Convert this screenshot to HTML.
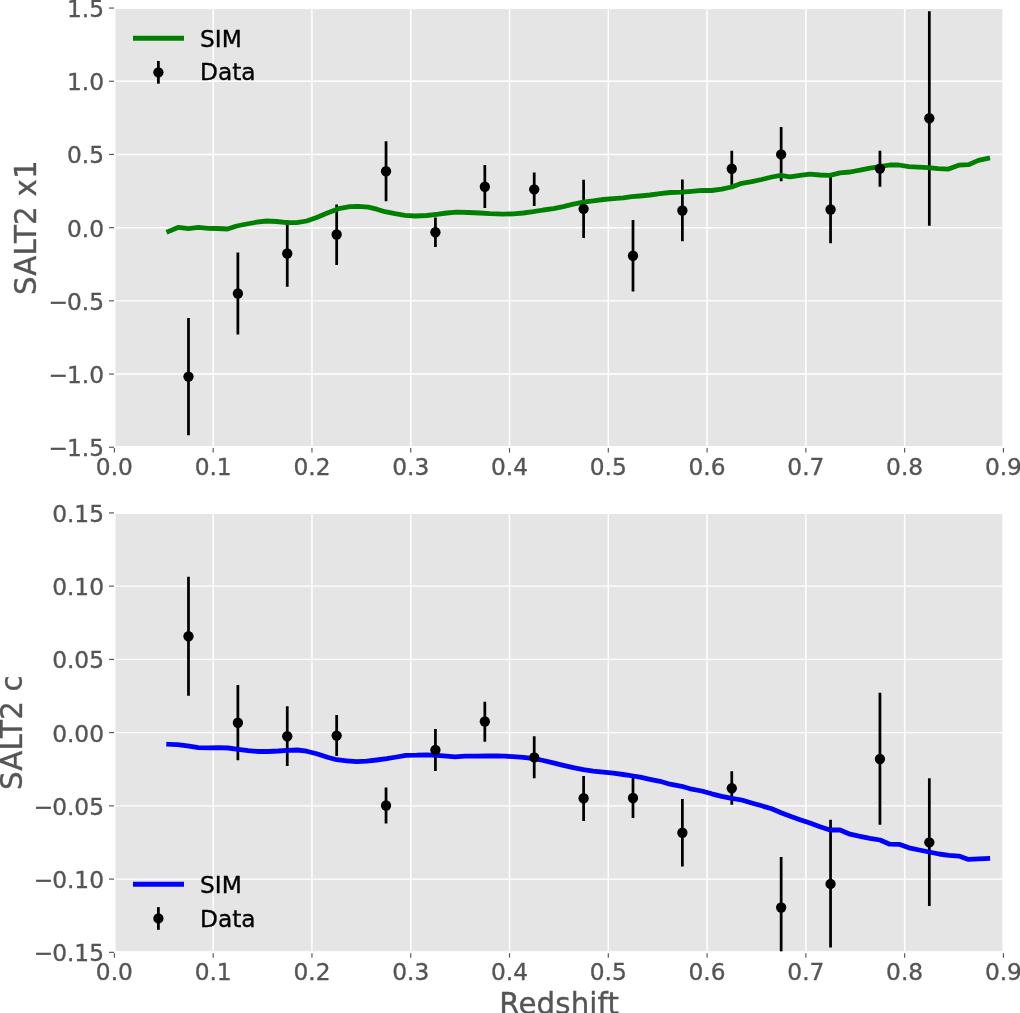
<!DOCTYPE html>
<html lang="en">
<head>
<meta charset="utf-8">
<title>SALT2 x1 and c versus Redshift</title>
<style>
html, body { margin: 0; padding: 0; background: #ffffff; }
body { width: 1020px; height: 1013px; overflow: hidden; }
svg { display: block; }
text { font-family: "DejaVu Sans", "Liberation Sans", sans-serif; stroke-width: 0.35px; stroke-linejoin: round; }
</style>
</head>
<body>
<svg width="1020" height="1013" viewBox="0 0 1020 1013" font-family='"DejaVu Sans", "Liberation Sans", sans-serif'>
<rect x="0" y="0" width="1020" height="1013" fill="#ffffff"/>
<clipPath id="clip1"><rect x="114.4" y="8.05" width="889.02" height="439.2"/></clipPath>
<rect x="114.4" y="8.05" width="889.02" height="439.2" fill="#e5e5e5"/>
<g clip-path="url(#clip1)" stroke="#ffffff" stroke-width="1.45">
<line x1="114.4" y1="8.05" x2="114.4" y2="447.25"/>
<line x1="213.18" y1="8.05" x2="213.18" y2="447.25"/>
<line x1="311.96" y1="8.05" x2="311.96" y2="447.25"/>
<line x1="410.74" y1="8.05" x2="410.74" y2="447.25"/>
<line x1="509.52" y1="8.05" x2="509.52" y2="447.25"/>
<line x1="608.3" y1="8.05" x2="608.3" y2="447.25"/>
<line x1="707.08" y1="8.05" x2="707.08" y2="447.25"/>
<line x1="805.86" y1="8.05" x2="805.86" y2="447.25"/>
<line x1="904.64" y1="8.05" x2="904.64" y2="447.25"/>
<line x1="1003.42" y1="8.05" x2="1003.42" y2="447.25"/>
<line x1="114.4" y1="8.05" x2="1003.42" y2="8.05"/>
<line x1="114.4" y1="81.25" x2="1003.42" y2="81.25"/>
<line x1="114.4" y1="154.45" x2="1003.42" y2="154.45"/>
<line x1="114.4" y1="227.65" x2="1003.42" y2="227.65"/>
<line x1="114.4" y1="300.85" x2="1003.42" y2="300.85"/>
<line x1="114.4" y1="374.05" x2="1003.42" y2="374.05"/>
<line x1="114.4" y1="447.25" x2="1003.42" y2="447.25"/>
</g>
<g clip-path="url(#clip1)">
<g stroke="#000000" stroke-width="2.75">
<line x1="188.49" y1="318" x2="188.49" y2="435.2"/>
<line x1="237.88" y1="252.5" x2="237.88" y2="334.5"/>
<line x1="287.26" y1="220.25" x2="287.26" y2="286.75"/>
<line x1="336.66" y1="204.5" x2="336.66" y2="265"/>
<line x1="386.04" y1="141.25" x2="386.04" y2="201.25"/>
<line x1="435.43" y1="217.5" x2="435.43" y2="247"/>
<line x1="484.83" y1="165" x2="484.83" y2="208"/>
<line x1="534.22" y1="172.6" x2="534.22" y2="206"/>
<line x1="583.61" y1="179.8" x2="583.61" y2="238"/>
<line x1="633" y1="220" x2="633" y2="291.5"/>
<line x1="682.38" y1="179.5" x2="682.38" y2="241.25"/>
<line x1="731.77" y1="150.75" x2="731.77" y2="186.75"/>
<line x1="781.16" y1="127" x2="781.16" y2="181.3"/>
<line x1="830.55" y1="175.75" x2="830.55" y2="243.25"/>
<line x1="879.94" y1="150.75" x2="879.94" y2="186.75"/>
<line x1="929.33" y1="11.25" x2="929.33" y2="225.75"/>
</g>
<polyline fill="none" stroke="#008000" stroke-width="4.8" stroke-linejoin="round" stroke-linecap="square" points="168.7,231.4 178.6,227.3 188.5,228.7 198.4,227.4 208.3,228.3 217.5,228.5 227.5,229.0 236.7,226.0 246.7,224.0 256.7,222.2 266.7,221.0 276.7,221.5 286.7,222.7 296.7,222.7 306.7,221.0 316.7,217.5 326.7,213.3 340,208.3 350,206.7 358.3,206.3 368.3,207.2 376.7,209.2 385,211.7 395,213.7 405,215.3 415,216 426.7,215.5 436.7,214.3 446.7,213 456.7,212.2 468.3,212.5 480,213 490,213.7 503.3,214.2 513.3,213.8 523.3,213 533.3,211.7 543.3,210 553.3,208.7 563.3,206.7 573.3,204.2 583.3,202.2 593.3,200.8 603.3,199.5 613.3,198.7 623.3,197.8 631.7,196.7 640,196.0 650,195 660,193.7 670,192.5 681.7,192.2 691.7,191.3 701.7,190.3 711.7,190.5 721.7,189.2 731.7,187 741.7,183.3 751.7,181.7 761.7,179.5 771.7,177 780.8,175.3 790,176.8 800,175.3 810,174.2 820,175 830,175.3 840,172.8 850,172.0 860,170.2 870,168.1 880,166.6 889.5,165 898.7,165 908.8,166.6 918.5,167.1 928.4,167.7 938.2,168.7 948.5,169.1 958.7,165.2 968.5,164.7 978.4,160.4 987.7,158.4"/>
<g fill="#000000">
<circle cx="188.49" cy="376.6" r="5.15"/>
<circle cx="237.88" cy="293.5" r="5.15"/>
<circle cx="287.26" cy="253.5" r="5.15"/>
<circle cx="336.66" cy="234.5" r="5.15"/>
<circle cx="386.04" cy="171.25" r="5.15"/>
<circle cx="435.43" cy="232.25" r="5.15"/>
<circle cx="484.83" cy="186.75" r="5.15"/>
<circle cx="534.22" cy="189.3" r="5.15"/>
<circle cx="583.61" cy="208.8" r="5.15"/>
<circle cx="633" cy="255.75" r="5.15"/>
<circle cx="682.38" cy="210.5" r="5.15"/>
<circle cx="731.77" cy="168.75" r="5.15"/>
<circle cx="781.16" cy="154.4" r="5.15"/>
<circle cx="830.55" cy="209.5" r="5.15"/>
<circle cx="879.94" cy="168.6" r="5.15"/>
<circle cx="929.33" cy="118.25" r="5.15"/>
</g></g>
<rect x="114.4" y="8.05" width="889.02" height="439.2" fill="none" stroke="#ffffff" stroke-width="2"/>
<g stroke="#555555" stroke-width="1.15">
<line x1="114.4" y1="448.05" x2="114.4" y2="452.55"/>
<line x1="213.18" y1="448.05" x2="213.18" y2="452.55"/>
<line x1="311.96" y1="448.05" x2="311.96" y2="452.55"/>
<line x1="410.74" y1="448.05" x2="410.74" y2="452.55"/>
<line x1="509.52" y1="448.05" x2="509.52" y2="452.55"/>
<line x1="608.3" y1="448.05" x2="608.3" y2="452.55"/>
<line x1="707.08" y1="448.05" x2="707.08" y2="452.55"/>
<line x1="805.86" y1="448.05" x2="805.86" y2="452.55"/>
<line x1="904.64" y1="448.05" x2="904.64" y2="452.55"/>
<line x1="1003.42" y1="448.05" x2="1003.42" y2="452.55"/>
<line x1="109" y1="8.05" x2="114" y2="8.05"/>
<line x1="109" y1="81.25" x2="114" y2="81.25"/>
<line x1="109" y1="154.45" x2="114" y2="154.45"/>
<line x1="109" y1="227.65" x2="114" y2="227.65"/>
<line x1="109" y1="300.85" x2="114" y2="300.85"/>
<line x1="109" y1="374.05" x2="114" y2="374.05"/>
<line x1="109" y1="447.25" x2="114" y2="447.25"/>
</g>
<g fill="#555555" stroke="#555555" font-size="23.3">
<text x="114.4" y="474.95" text-anchor="middle">0.0</text>
<text x="213.18" y="474.95" text-anchor="middle">0.1</text>
<text x="311.96" y="474.95" text-anchor="middle">0.2</text>
<text x="410.74" y="474.95" text-anchor="middle">0.3</text>
<text x="509.52" y="474.95" text-anchor="middle">0.4</text>
<text x="608.3" y="474.95" text-anchor="middle">0.5</text>
<text x="707.08" y="474.95" text-anchor="middle">0.6</text>
<text x="805.86" y="474.95" text-anchor="middle">0.7</text>
<text x="904.64" y="474.95" text-anchor="middle">0.8</text>
<text x="1003.42" y="474.95" text-anchor="middle">0.9</text>
<text x="104" y="17.05" text-anchor="end" font-size="23.3">1.5</text>
<text x="104" y="90.25" text-anchor="end" font-size="23.3">1.0</text>
<text x="104" y="163.45" text-anchor="end" font-size="23.3">0.5</text>
<text x="104" y="236.65" text-anchor="end" font-size="23.3">0.0</text>
<text x="104" y="309.85" text-anchor="end" font-size="23.3">−<tspan dx="-1.1">0.5</tspan></text>
<text x="104" y="383.05" text-anchor="end" font-size="23.3">−<tspan dx="-1.1">1.0</tspan></text>
<text x="104" y="456.25" text-anchor="end" font-size="23.3">−<tspan dx="-1.1">1.5</tspan></text>
</g>
<text transform="translate(35.9 227.65) rotate(-90)" text-anchor="middle" letter-spacing="0.2" fill="#555555" stroke="#555555" font-size="29.3">SALT2 x1</text>
<line x1="133" y1="38.2" x2="184" y2="38.2" stroke="#008000" stroke-width="4.9"/>
<line x1="158.4" y1="61" x2="158.4" y2="83.7" stroke="#000" stroke-width="2.75"/>
<circle cx="158.4" cy="72.3" r="5.15" fill="#000"/>
<text x="200.0" y="46.8" fill="#000" stroke="#000" font-size="23.3">SIM</text>
<text x="200.0" y="80.4" fill="#000" stroke="#000" font-size="23.3">Data</text>
<clipPath id="clip2"><rect x="114.4" y="512.9" width="889.02" height="439.45"/></clipPath>
<rect x="114.4" y="512.9" width="889.02" height="439.45" fill="#e5e5e5"/>
<g clip-path="url(#clip2)" stroke="#ffffff" stroke-width="1.45">
<line x1="114.4" y1="512.9" x2="114.4" y2="952.35"/>
<line x1="213.18" y1="512.9" x2="213.18" y2="952.35"/>
<line x1="311.96" y1="512.9" x2="311.96" y2="952.35"/>
<line x1="410.74" y1="512.9" x2="410.74" y2="952.35"/>
<line x1="509.52" y1="512.9" x2="509.52" y2="952.35"/>
<line x1="608.3" y1="512.9" x2="608.3" y2="952.35"/>
<line x1="707.08" y1="512.9" x2="707.08" y2="952.35"/>
<line x1="805.86" y1="512.9" x2="805.86" y2="952.35"/>
<line x1="904.64" y1="512.9" x2="904.64" y2="952.35"/>
<line x1="1003.42" y1="512.9" x2="1003.42" y2="952.35"/>
<line x1="114.4" y1="512.9" x2="1003.42" y2="512.9"/>
<line x1="114.4" y1="586.14" x2="1003.42" y2="586.14"/>
<line x1="114.4" y1="659.38" x2="1003.42" y2="659.38"/>
<line x1="114.4" y1="732.62" x2="1003.42" y2="732.62"/>
<line x1="114.4" y1="805.86" x2="1003.42" y2="805.86"/>
<line x1="114.4" y1="879.1" x2="1003.42" y2="879.1"/>
<line x1="114.4" y1="952.34" x2="1003.42" y2="952.34"/>
</g>
<g clip-path="url(#clip2)">
<g stroke="#000000" stroke-width="2.75">
<line x1="188.49" y1="576.75" x2="188.49" y2="695.75"/>
<line x1="237.88" y1="685" x2="237.88" y2="760.25"/>
<line x1="287.26" y1="706.25" x2="287.26" y2="766"/>
<line x1="336.66" y1="715" x2="336.66" y2="756"/>
<line x1="386.04" y1="787.5" x2="386.04" y2="823.5"/>
<line x1="435.43" y1="729" x2="435.43" y2="771"/>
<line x1="484.83" y1="701.75" x2="484.83" y2="741.75"/>
<line x1="534.22" y1="736.25" x2="534.22" y2="778.3"/>
<line x1="583.61" y1="776" x2="583.61" y2="821"/>
<line x1="633" y1="778" x2="633" y2="818"/>
<line x1="682.38" y1="799" x2="682.38" y2="866.5"/>
<line x1="731.77" y1="771.25" x2="731.77" y2="804.75"/>
<line x1="781.16" y1="857" x2="781.16" y2="958"/>
<line x1="830.55" y1="819.75" x2="830.55" y2="947.5"/>
<line x1="879.94" y1="692.75" x2="879.94" y2="824.7"/>
<line x1="929.33" y1="778.25" x2="929.33" y2="906"/>
</g>
<polyline fill="none" stroke="#0000ff" stroke-width="4.8" stroke-linejoin="round" stroke-linecap="square" points="168.7,744.3 177.5,744.7 187.5,745.8 198.3,747.7 208.3,747.8 218.3,747.7 228.3,748 238,749.3 248.3,750.7 258.3,751.5 268.3,751.5 278.3,751 287.5,750.3 297.5,750 306.7,751.2 316.7,753.8 328.3,757.5 336.7,759.7 346.7,760.8 356.7,761.7 366.7,761.2 376.7,760 386.7,758.7 396.7,757 405.8,755.3 416.7,755.2 426.7,754.8 436.7,755.3 446.7,756.2 455,756.8 465,756.2 475,756.2 488.3,756.0 496.7,755.8 505,756.2 513.3,756.7 523.3,757.3 534.2,758.7 543.3,760.5 553.3,762.8 563.3,765.3 573.3,767.7 583.3,769.7 593.3,771.2 603.3,772.2 613.3,773.2 623.3,774.5 633.3,776 640,777.2 650,779.3 660,781.3 670,784.2 681.7,786.3 691.7,789.2 701.7,791 711.7,793.8 721.7,796.3 731.7,798.3 741.7,800 751.7,803 761.7,805.8 771.7,808.8 781.7,813 791.7,816.8 800,819.7 810,823 820,826.7 830,830 840,830 850,834.2 860,836.3 870,838.3 880,840 889.8,844.2 899.2,844.3 909,847.8 919.2,850 929.1,852 939.1,854 948.9,855.4 958.9,856.1 968.5,859.4 978.8,858.8 987.7,858.4"/>
<g fill="#000000">
<circle cx="188.49" cy="636.25" r="5.15"/>
<circle cx="237.88" cy="722.75" r="5.15"/>
<circle cx="287.26" cy="736.25" r="5.15"/>
<circle cx="336.66" cy="735.6" r="5.15"/>
<circle cx="386.04" cy="805.5" r="5.15"/>
<circle cx="435.43" cy="750" r="5.15"/>
<circle cx="484.83" cy="721.5" r="5.15"/>
<circle cx="534.22" cy="757.3" r="5.15"/>
<circle cx="583.61" cy="798.25" r="5.15"/>
<circle cx="633" cy="798" r="5.15"/>
<circle cx="682.38" cy="832.75" r="5.15"/>
<circle cx="731.77" cy="788.25" r="5.15"/>
<circle cx="781.16" cy="907.5" r="5.15"/>
<circle cx="830.55" cy="883.9" r="5.15"/>
<circle cx="879.94" cy="759" r="5.15"/>
<circle cx="929.33" cy="842.3" r="5.15"/>
</g></g>
<rect x="114.4" y="512.9" width="889.02" height="439.45" fill="none" stroke="#ffffff" stroke-width="2"/>
<g stroke="#555555" stroke-width="1.15">
<line x1="114.4" y1="953.15" x2="114.4" y2="957.65"/>
<line x1="213.18" y1="953.15" x2="213.18" y2="957.65"/>
<line x1="311.96" y1="953.15" x2="311.96" y2="957.65"/>
<line x1="410.74" y1="953.15" x2="410.74" y2="957.65"/>
<line x1="509.52" y1="953.15" x2="509.52" y2="957.65"/>
<line x1="608.3" y1="953.15" x2="608.3" y2="957.65"/>
<line x1="707.08" y1="953.15" x2="707.08" y2="957.65"/>
<line x1="805.86" y1="953.15" x2="805.86" y2="957.65"/>
<line x1="904.64" y1="953.15" x2="904.64" y2="957.65"/>
<line x1="1003.42" y1="953.15" x2="1003.42" y2="957.65"/>
<line x1="109" y1="512.9" x2="114" y2="512.9"/>
<line x1="109" y1="586.14" x2="114" y2="586.14"/>
<line x1="109" y1="659.38" x2="114" y2="659.38"/>
<line x1="109" y1="732.62" x2="114" y2="732.62"/>
<line x1="109" y1="805.86" x2="114" y2="805.86"/>
<line x1="109" y1="879.1" x2="114" y2="879.1"/>
<line x1="109" y1="952.34" x2="114" y2="952.34"/>
</g>
<g fill="#555555" stroke="#555555" font-size="23.3">
<text x="114.4" y="980.05" text-anchor="middle">0.0</text>
<text x="213.18" y="980.05" text-anchor="middle">0.1</text>
<text x="311.96" y="980.05" text-anchor="middle">0.2</text>
<text x="410.74" y="980.05" text-anchor="middle">0.3</text>
<text x="509.52" y="980.05" text-anchor="middle">0.4</text>
<text x="608.3" y="980.05" text-anchor="middle">0.5</text>
<text x="707.08" y="980.05" text-anchor="middle">0.6</text>
<text x="805.86" y="980.05" text-anchor="middle">0.7</text>
<text x="904.64" y="980.05" text-anchor="middle">0.8</text>
<text x="1003.42" y="980.05" text-anchor="middle">0.9</text>
<text x="104" y="521.9" text-anchor="end" font-size="23.3">0.15</text>
<text x="104" y="595.14" text-anchor="end" font-size="23.3">0.10</text>
<text x="104" y="668.38" text-anchor="end" font-size="23.3">0.05</text>
<text x="104" y="741.62" text-anchor="end" font-size="23.3">0.00</text>
<text x="104" y="814.86" text-anchor="end" font-size="23.3">−<tspan dx="-1.1">0.05</tspan></text>
<text x="104" y="888.1" text-anchor="end" font-size="23.3">−<tspan dx="-1.1">0.10</tspan></text>
<text x="104" y="961.34" text-anchor="end" font-size="23.3">−<tspan dx="-1.1">0.15</tspan></text>
</g>
<text transform="translate(21.7 732.62) rotate(-90)" text-anchor="middle" letter-spacing="0.2" fill="#555555" stroke="#555555" font-size="29.3">SALT2 c</text>
<text x="559.21" y="1013.5" text-anchor="middle" letter-spacing="0.1" fill="#555555" stroke="#555555" font-size="29.3">Redshift</text>
<line x1="133" y1="884.3" x2="184" y2="884.3" stroke="#0000ff" stroke-width="4.9"/>
<line x1="158.4" y1="907.1" x2="158.4" y2="929.8" stroke="#000" stroke-width="2.75"/>
<circle cx="158.4" cy="918.4" r="5.15" fill="#000"/>
<text x="200.0" y="892.9" fill="#000" stroke="#000" font-size="23.3">SIM</text>
<text x="200.0" y="926.5" fill="#000" stroke="#000" font-size="23.3">Data</text>
</svg>
</body>
</html>
